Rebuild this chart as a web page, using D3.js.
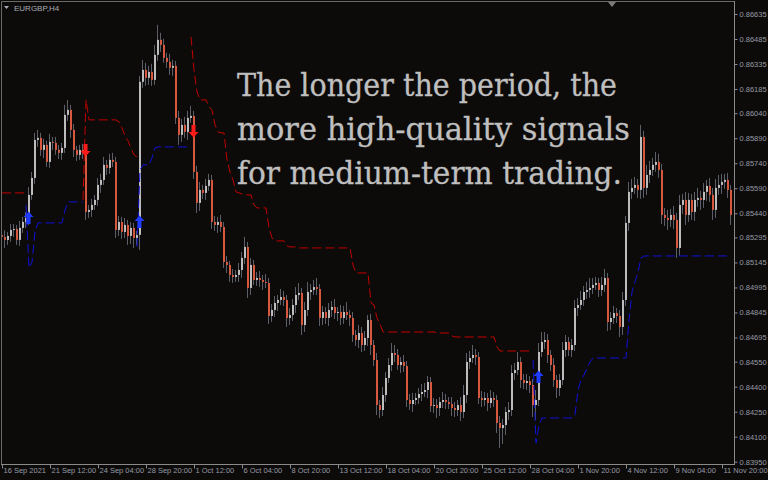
<!DOCTYPE html>
<html><head><meta charset="utf-8">
<script src="https://cdn.jsdelivr.net/npm/d3@7"></script>
<style>
html,body{margin:0;padding:0;background:#0d0b09;}
svg{display:block;}
</style></head>
<body>
<svg id="c" width="768" height="480"></svg>
<script>
// ---- DATA (EURGBP H4) ----
const symbolLabel = "EURGBP,H4";
const firstOpen = 0.85310;
const closes = [
0.85298,0.85280,0.85304,0.85340,0.85346,0.85280,0.85352,0.85388,0.85412,0.85550,
0.85652,0.85880,0.85892,0.85820,0.85850,0.85748,0.85868,0.85862,0.85820,0.85802,
0.85832,0.86030,0.86060,0.85940,0.85820,0.85790,0.85820,0.85808,0.85448,0.85460,
0.85490,0.85520,0.85610,0.85640,0.85730,0.85712,0.85760,0.85748,0.85340,0.85388,
0.85328,0.85370,0.85304,0.85352,0.85292,0.85310,0.86228,0.86300,0.86252,0.86288,
0.86240,0.86390,0.86480,0.86450,0.86372,0.86348,0.86312,0.86324,0.86012,0.85910,
0.85970,0.85928,0.86012,0.86024,0.85688,0.85502,0.85580,0.85562,0.85604,0.85640,
0.85388,0.85370,0.85388,0.85358,0.85148,0.85130,0.85070,0.85058,0.85070,0.85100,
0.85172,0.85238,0.84992,0.85130,0.85040,0.85052,0.85040,0.85028,0.85022,0.84824,
0.84860,0.84902,0.84920,0.84938,0.84920,0.84812,0.84830,0.84890,0.84950,0.84962,
0.84770,0.84860,0.84968,0.84980,0.84998,0.84986,0.84812,0.84848,0.84812,0.84860,
0.84878,0.84842,0.84848,0.84812,0.84848,0.84830,0.84812,0.84710,0.84680,0.84722,
0.84650,0.84692,0.84800,0.84650,0.84560,0.84290,0.84260,0.84350,0.84452,0.84530,
0.84602,0.84590,0.84530,0.84548,0.84524,0.84320,0.84296,0.84320,0.84332,0.84356,
0.84368,0.84380,0.84428,0.84284,0.84290,0.84272,0.84308,0.84320,0.84308,0.84296,
0.84272,0.84260,0.84290,0.84248,0.84350,0.84548,0.84572,0.84590,0.84578,0.84332,
0.84320,0.84332,0.84302,0.84332,0.84320,0.84182,0.84152,0.84170,0.84248,0.84260,
0.84482,0.84500,0.84548,0.84440,0.84422,0.84434,0.84410,0.84290,0.84320,0.84608,
0.84668,0.84680,0.84590,0.84530,0.84440,0.84392,0.84440,0.84620,0.84668,0.84620,
0.84650,0.84872,0.84890,0.84920,0.84968,0.84980,0.84992,0.85010,0.85022,0.84980,
0.85010,0.85052,0.84788,0.84812,0.84842,0.84824,0.84758,0.84920,0.85382,0.85568,
0.85592,0.85610,0.85580,0.85898,0.85592,0.85670,0.85700,0.85730,0.85748,0.85700,
0.85430,0.85412,0.85400,0.85430,0.85400,0.85232,0.85490,0.85520,0.85430,0.85520,
0.85448,0.85520,0.85532,0.85520,0.85568,0.85604,0.85550,0.85460,0.85592,0.85610,
0.85628,0.85640,0.85580,0.85430];
// wick lengths above / below the body, in points (0.00001)
const upperWick = [
30,40,24,36,30,24,42,30,36,48, 36,42,48,30,36,24,48,30,36,30,
30,60,60,30,36,24,30,36,24,30, 36,30,42,36,48,30,36,42,30,36,
30,42,30,36,30,24,36,60,42,36, 48,60,90,42,36,30,48,36,30,42,
36,48,42,60,30,36,48,30,42,36, 30,36,30,42,30,36,24,36,30,42,
36,60,30,42,30,36,42,30,48,30, 36,42,30,48,36,30,42,36,48,60,
30,48,60,36,42,54,30,36,30,42, 36,48,30,42,36,60,30,36,30,48,
36,42,30,36,30,42,30,48,36,42, 60,48,36,30,42,30,36,42,30,36,
48,42,36,30,42,36,30,48,36,30, 42,36,30,48,60,54,42,60,36,30,
42,36,30,48,36,30,42,36,30,48, 48,42,60,30,36,42,30,36,60,54,
60,48,36,30,42,30,36,48,42,30, 36,48,42,54,36,48,60,42,36,30,
48,54,30,36,42,30,36,48,42,60, 54,48,36,72,36,60,54,42,60,48,
36,42,48,36,54,42,60,36,48,42, 36,48,60,42,54,36,48,42,54,60,
48,36,42,30];
const lowerWick = [
36,48,30,36,42,30,36,30,36,42, 30,36,42,36,48,30,36,42,30,36,
42,30,36,48,42,36,30,42,48,36, 42,30,36,48,30,42,36,30,48,36,
42,36,54,48,60,42,90,36,48,42, 36,30,36,42,30,36,42,48,36,60,
42,36,48,30,42,60,48,36,42,30, 42,36,48,30,36,48,42,36,30,42,
48,36,60,42,30,36,42,48,30,48, 36,42,48,30,36,54,42,36,48,30,
60,42,36,48,30,36,48,42,36,48, 42,36,48,42,36,30,48,42,36,48,
42,36,48,60,36,60,48,36,42,30, 36,42,30,48,36,42,36,48,30,36,
42,30,48,36,42,60,48,36,42,30, 48,42,36,54,36,48,42,30,48,36,
42,36,48,30,42,60,120,96,60,48, 36,42,30,48,36,42,48,72,90,36,
30,42,48,36,42,60,48,30,42,36, 42,36,48,30,36,42,48,36,30,42,
36,42,54,48,36,42,60,48,36,48, 42,36,48,54,60,42,48,36,42,48,
54,48,60,42,54,60,48,54,60,42, 48,54,42,60,48,54,42,60,48,42,
54,42,48,60];

// stop lines: each segment starts at the given bar index
const redStop1Start = 0;
const redStop1 = [0.85562,0.85562,0.85562,0.85562,0.85562,0.85562,0.85562,0.85562,0.85562];
const blueStop1Start = 8;
const blueStop1 = [0.85490,0.85112,0.85148,0.85328,0.85382,0.85382,0.85382,0.85382,0.85382,0.85382,
  0.85382,0.85382,0.85382,0.85460,0.85508,0.85508,0.85508,0.85508,0.85508,0.85508];
const redStop2Start = 27;
const redStop2 = [0.85520,0.86120,0.86000,0.86000,0.86000,0.86000,0.86000,0.86000,0.86000,0.86000,
  0.86000,0.86000,0.85988,0.85952,0.85904,0.85874,0.85832,0.85790,0.85778];
const blueStop2Start = 45;
const blueStop2 = [0.85238,0.85700,0.85730,0.85730,0.85730,0.85772,0.85832,0.85838,0.85838,0.85838,
  0.85838,0.85838,0.85838,0.85838,0.85838,0.85838,0.85838,0.85838,0.85838];
const redStop3Start = 63;
const redStop3 = [0.86498,0.86300,0.86168,0.86120,0.86120,0.86120,0.86078,0.86060,0.85970,0.85928,
  0.85922,0.85922,0.85760,0.85688,0.85640,0.85568,0.85562,0.85556,0.85550,0.85550,
  0.85550,0.85490,0.85472,0.85472,0.85472,0.85472,0.85352,0.85292,0.85274,0.85274,
  0.85274,0.85274,0.85244,0.85238,0.85238,0.85238,0.85232,0.85232,0.85232,0.85232,
  0.85232,0.85232,0.85232,0.85232,0.85232,0.85232,0.85232,0.85232,0.85232,0.85232,
  0.85232,0.85232,0.85232,0.85232,0.85130,0.85082,0.85082,0.85082,0.85082,0.85082,
  0.84902,0.84890,0.84812,0.84776,0.84728,0.84728,0.84728,0.84728,0.84728,0.84728,
  0.84728,0.84728,0.84728,0.84728,0.84728,0.84728,0.84728,0.84728,0.84728,0.84728,
  0.84728,0.84728,0.84722,0.84722,0.84722,0.84722,0.84722,0.84704,0.84698,0.84698,
  0.84698,0.84698,0.84698,0.84698,0.84698,0.84698,0.84698,0.84698,0.84698,0.84698,
  0.84698,0.84698,0.84638,0.84614,0.84614,0.84614,0.84614,0.84614,0.84614,0.84614,
  0.84614,0.84614,0.84614,0.84614,0.84614];
const blueStop3Start = 177;
const blueStop3 = [0.84560,0.84062,0.84170,0.84212,0.84212,0.84212,0.84212,0.84212,0.84212,0.84212,
  0.84212,0.84212,0.84212,0.84212,0.84230,0.84380,0.84440,0.84470,0.84512,0.84548,
  0.84572,0.84572,0.84572,0.84572,0.84572,0.84572,0.84572,0.84572,0.84572,0.84572,
  0.84572,0.84572,0.84800,0.84968,0.85028,0.85088,0.85172,0.85184,0.85184,0.85184,
  0.85184,0.85184,0.85184,0.85184,0.85184,0.85184,0.85184,0.85184,0.85184,0.85184,
  0.85184,0.85184,0.85184,0.85184,0.85184,0.85184,0.85184,0.85184,0.85184,0.85184,
  0.85184,0.85184,0.85184,0.85184,0.85184,0.85184,0.85184];

// signal arrows
const buyArrowBars = [9, 46, 179];
const buyArrowPrices = [0.85412, 0.85388, 0.84458];
const sellArrowBars = [28, 64];
const sellArrowPrices = [0.85820, 0.85934];

// axes
const yTickLabels = ["0.86635","0.86485","0.86335","0.86185","0.86040","0.85890","0.85740","0.85590",
  "0.85440","0.85295","0.85145","0.84995","0.84845","0.84695","0.84550","0.84400","0.84250","0.84100","0.83950"];
const xTickBars = [0,16,32,48,64,80,96,112,128,144,160,176,192,208,224,240];
const xTickLabels = ["16 Sep 2021","21 Sep 12:00","24 Sep 04:00","28 Sep 20:00","1 Oct 12:00","6 Oct 04:00",
  "8 Oct 20:00","13 Oct 12:00","18 Oct 04:00","20 Oct 20:00","25 Oct 12:00","28 Oct 04:00",
  "1 Nov 20:00","4 Nov 12:00","9 Nov 04:00","11 Nov 20:00"];
const captionLines = ["The longer the period, the","more high-quality signals","for medium-term trading."];

// ---- DRAW ----
const svg = d3.select("#c");
const W = 768, H = 480;
const plotR = 734, plotB = 464;
svg.append("rect").attr("width", W).attr("height", H).attr("fill", "#0d0b09");

const x = d3.scaleLinear().domain([0, closes.length - 1]).range([2, 2 + 3 * (closes.length - 1)]);
const y = d3.scaleLinear().domain([0.83950, 0.86635]).range([461.7, 14]);

const bars = closes.map((c, i) => {
  const o = i === 0 ? firstOpen : closes[i - 1];
  return {i, o, c, h: Math.max(o, c) + upperWick[i] * 1e-5, l: Math.min(o, c) - lowerWick[i] * 1e-5};
});

const plot = svg.append("g");
plot.append("defs").append("clipPath").attr("id", "clip")
  .append("rect").attr("x", 2).attr("y", 2).attr("width", plotR - 2).attr("height", plotB - 2);
const pg = plot.append("g").attr("clip-path", "url(#clip)");

// caption text
const cap = pg.append("g");
captionLines.forEach((t, k) => {
  cap.append("text").attr("x", 237).attr("y", 96 + k * 44)
    .attr("fill", "#bfbfbf").attr("font-family", "DejaVu Serif")
    .attr("font-size", 31).attr("stroke", "#bfbfbf").attr("stroke-width", 0.3)
    .attr("textLength", [380, 393, 385][k]).attr("lengthAdjust", "spacingAndGlyphs")
    .text(t);
});

// wicks
pg.append("g").selectAll("line").data(bars).join("line")
  .attr("x1", d => x(d.i) - 0.5).attr("x2", d => x(d.i) - 0.5)
  .attr("y1", d => y(d.h)).attr("y2", d => y(d.l))
  .attr("stroke", "#5a5f69").attr("stroke-width", 1);
// bodies
pg.append("g").selectAll("rect").data(bars).join("rect")
  .attr("x", d => x(d.i) - 1).attr("width", 2)
  .attr("y", d => y(Math.max(d.o, d.c)))
  .attr("height", d => Math.max(1, Math.abs(y(d.o) - y(d.c))))
  .attr("fill", d => d.c >= d.o ? "#bdbdbd" : "#d5583f");

// stop lines
const line = d3.line().x(d => x(d[0])).y(d => y(d[1]));
function seg(start, vals, color) {
  const pts = vals.map((v, k) => [start + k, v]);
  pg.append("path").attr("d", line(pts)).attr("fill", "none")
    .attr("stroke", color).attr("stroke-width", 1).attr("stroke-dasharray", "9,4");
}
seg(redStop1Start, redStop1, "#c00000");
seg(blueStop1Start, blueStop1, "#1010d8");
seg(redStop2Start, redStop2, "#c00000");
seg(blueStop2Start, blueStop2, "#1010d8");
seg(redStop3Start, redStop3, "#c00000");
seg(blueStop3Start, blueStop3, "#1010d8");

// arrows (thick Wingdings-style)
const upArrow = "M0,-6.5 L5,-1 L2,-1 L2,6 L-2,6 L-2,-1 L-5,-1 Z";
const downArrow = "M0,6.5 L5,1 L2,1 L2,-6 L-2,-6 L-2,1 L-5,1 Z";
buyArrowBars.forEach((b, k) => {
  pg.append("path").attr("d", upArrow).attr("fill", "#1f3cff")
    .attr("transform", `translate(${x(b) - 0.5},${y(buyArrowPrices[k])})`);
});
sellArrowBars.forEach((b, k) => {
  pg.append("path").attr("d", downArrow).attr("fill", "#ff1a1a")
    .attr("transform", `translate(${x(b) - 0.5},${y(sellArrowPrices[k])})`);
});

// frame
svg.append("path").attr("d", `M1.5,${plotB}.5 L1.5,1.5 L${plotR}.5,1.5`)
  .attr("fill", "none").attr("stroke", "#6a6a6a");
svg.append("line").attr("x1", plotR + 0.5).attr("x2", plotR + 0.5).attr("y1", 1).attr("y2", plotB + 1)
  .attr("stroke", "#8a8a8a");
svg.append("line").attr("x1", 1).attr("x2", plotR + 1).attr("y1", plotB + 0.5).attr("y2", plotB + 0.5)
  .attr("stroke", "#8a8a8a");

// right axis
const yAxis = d3.axisRight(y).tickValues(yTickLabels.map(Number))
  .tickFormat((d, k) => yTickLabels[k]).tickSize(3).tickSizeOuter(0).tickPadding(2);
const ya = svg.append("g").attr("transform", `translate(${plotR + 0.5},0)`).call(yAxis);
ya.select(".domain").remove();
ya.selectAll("line").attr("stroke", "#8a8a8a");
ya.selectAll("text").attr("fill", "#959aa6").attr("font-family", "Liberation Sans")
  .attr("font-size", 7.5);

// bottom axis
const xAxis = d3.axisBottom(x).tickValues(xTickBars)
  .tickFormat((d, k) => xTickLabels[k]).tickSize(4).tickSizeOuter(0);
const xa = svg.append("g").attr("transform", `translate(0,${plotB + 0.5})`).call(xAxis);
xa.select(".domain").remove();
xa.selectAll("line").attr("stroke", "#8a8a8a");
xa.selectAll("text").attr("fill", "#959aa6").attr("font-family", "Liberation Sans")
  .attr("font-size", 7.5).attr("text-anchor", "start").attr("x", 1).attr("dy", "0.55em").attr("y", 4);

// symbol label
svg.append("path").attr("d", "M4,6 L9,6 L6.5,9 Z").attr("fill", "#a8acb4");
svg.append("text").attr("x", 14).attr("y", 10.5).attr("fill", "#a8acb4")
  .attr("font-family", "Liberation Sans").attr("font-size", 8).text(symbolLabel);
// chart shift marker
svg.append("path").attr("d", "M608,2 L616,2 L612,7 Z").attr("fill", "#7d7d7d");
</script>
</body></html>
